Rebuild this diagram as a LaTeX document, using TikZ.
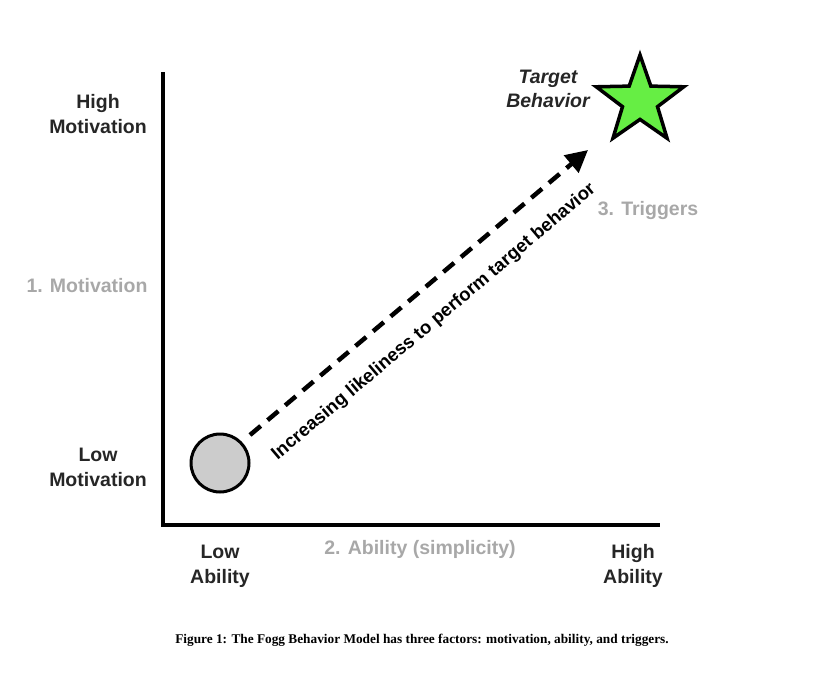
\documentclass[tikz,border=0pt]{standalone}
\usepackage{fontspec}
\setmainfont{Liberation Sans}
\newfontfamily\capfont{Liberation Serif}
\usetikzlibrary{shapes.geometric,arrows.meta}
\definecolor{lbl}{HTML}{A8A8A8}
\definecolor{stargreen}{HTML}{66EE44}
\begin{document}
\begin{tikzpicture}[x=1pt,y=-1pt,
  ax/.style={line width=4.5pt},
  blab/.style={font=\bfseries\fontsize{19.5}{25}\selectfont,align=center,text=black!85},
  glab/.style={font=\bfseries\fontsize{19.5}{24}\selectfont,text=lbl}]
\useasboundingbox (0,0) rectangle (840,688);
\coordinate (top) at (163,72);
\coordinate (orig) at (163,525);
\coordinate (right) at (660,525);
\draw[ax,line join=miter] (top) -- (orig) -- (right);
\node[circle,draw,line width=3pt,fill=black!20,minimum size=58pt,inner sep=0] (c) at (220,463) {};
\node[star,star points=5,star point ratio=2.5,draw,line width=3.5pt,fill=stargreen,minimum size=92pt,inner sep=0] (s) at (640,101) {};
\coordinate (a0) at (250,435);
\coordinate (a1) at (588,150);
\draw[line width=4.5pt,dash pattern=on 14pt off 9pt,-{Triangle[length=22pt,width=22pt]}] (a0) -- (a1);
\node[font=\bfseries\fontsize{18.5}{22}\selectfont,rotate=40.2] (al) at (434,322) {Increasing likeliness to perform target behavior};
\node[blab] (hm) at (98,114) {High\\Motivation};
\node[blab] (lm) at (98,467) {Low\\Motivation};
\node[glab] (m) at (87,286) {1. Motivation};
\node[blab] (la) at (220,566) {Low\\Ability};
\node[glab] (ab) at (420,549) {2. Ability (simplicity)};
\node[blab] (ha) at (633,566) {High\\Ability};
\node[glab] (tr) at (648,210) {3. Triggers};
\node[blab,font=\bfseries\itshape\fontsize{19.5}{24}\selectfont] (tb) at (548,89) {Target\\Behavior};
\node[font=\capfont\bfseries\fontsize{13.3}{16}\selectfont] (cap) at (422,640) {Figure 1: The Fogg Behavior Model has three factors: motivation, ability, and triggers.};
\end{tikzpicture}
\end{document}
